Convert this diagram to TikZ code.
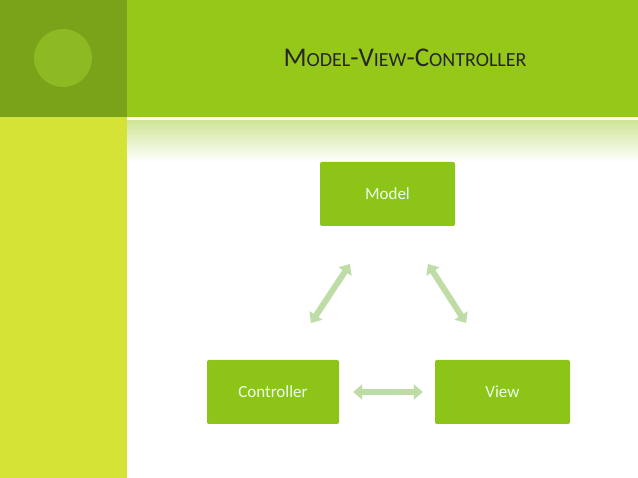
\documentclass[tikz,border=0pt]{standalone}
\usepackage{fontspec}
\setmainfont{Carlito}
\usetikzlibrary{arrows.meta,calc}
\definecolor{hdr}{HTML}{96C81A}
\definecolor{hdrdark}{HTML}{7BA319}
\definecolor{circ}{HTML}{8DBA22}
\definecolor{strip}{HTML}{D5E236}
\definecolor{boxg}{HTML}{8CC418}
\definecolor{arr}{HTML}{BEDCA5}
\tikzset{mbox/.style={fill=boxg,rounded corners=2pt,minimum width=135pt,minimum height=64pt,text=white!92!green,font=\fontsize{17}{20}\selectfont},
darr/.style={arr,line width=6pt,{Triangle[length=9pt,width=15pt]}-{Triangle[length=9pt,width=15pt]}}}
\begin{document}
\begin{tikzpicture}[x=1pt,y=-1pt]
\useasboundingbox (0,0) rectangle (638,478);
\fill[white] (0,0) rectangle (638,478);
\fill[hdr] (127,0) rectangle (638,117);
\fill[hdrdark] (0,0) rectangle (127,117);
\fill[circ] (63,58) circle (29);
\fill[strip] (0,117) rectangle (127,478);
\shade[top color=hdr!45!white,bottom color=white] (127,121) rectangle (638,162);
\node[anchor=base,font=\fontsize{27}{30}\selectfont,text=black!85] (title) at (405,67)
 {M{\fontsize{20}{24}\selectfont ODEL}-V{\fontsize{20}{24}\selectfont IEW}-C{\fontsize{20}{24}\selectfont ONTROLLER}};
\node[mbox] (model) at (387.5,194) {Model};
\node[mbox,minimum width=132pt] (ctrl) at (273,392) {Controller};
\node[mbox] (view) at (502.5,392) {View};
\coordinate (a1) at (350,264);\coordinate (a2) at (311,323);
\coordinate (b1) at (428,264);\coordinate (b2) at (466,323);
\draw[darr] (a1) -- (a2);
\draw[darr] (b1) -- (b2);
\draw[darr] ($(ctrl.east)+(14,0)$) -- ($(view.west)+(-12,0)$);
\end{tikzpicture}
\end{document}
